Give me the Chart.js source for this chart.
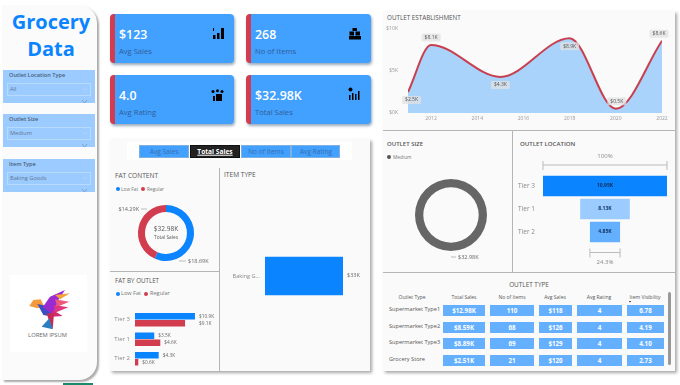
<!DOCTYPE html>
<html>
<head>
<meta charset="utf-8">
<script src="https://cdn.jsdelivr.net/npm/chart.js@4"></script>
<style>
html,body{margin:0;padding:0;background:#fff;overflow:hidden}
#page{position:relative;width:680px;height:385px;font-family:"Open Sans",sans-serif;overflow:hidden}
.box{position:absolute;box-sizing:border-box}
.panel{position:absolute;box-sizing:border-box;background:#fafafa;box-shadow:2px 2px 3px #a8a8a8}
.txt{position:absolute;white-space:nowrap;line-height:1}
canvas{position:absolute}
</style>
</head>
<body>
<div id="page"></div>
<script>
// ---- data
const kpiValues=['$123','268','4.0','$32.98K'];
const kpiNames=['Avg Sales','No of Items','Avg Rating','Total Sales'];
const slicerNames=['Outlet Location Type','Outlet Size','Item Type'];
const slicerValues=['All','Medium','Baking Goods'];
const tabNames=['Avg Sales','Total Sales','No of Items','Avg Rating'];

const fatNames=['Low Fat','Regular'];
const fatSales=[18.69,14.29];
const fatSalesLabels=['$18.69K','$14.29K'];

const itemNames=['Baking Goods'];
const itemSales=[33];

const tierNames=['Tier 3','Tier 1','Tier 2'];
const tierLowFat=[10.9,3.5,4.3];
const tierRegular=[9.1,4.6,0.6];

const estYears=[2011,2012,2015,2018,2020,2022];
const estSales=[2.5,8.1,4.3,8.9,0.5,8.6];
const estLabels=['$2.5K','$8.1K','$4.3K','$8.9K','$0.5K','$8.6K'];
const estTickYears=[2012,2014,2016,2018,2020,2022];

const sizeNames=['Medium'];
const sizeSales=[32.98];

const funnelNames=['Tier 3','Tier 1','Tier 2'];
const funnelPct=[100,40,24.3];
const funnelLabels=['10.95K','8.13K','4.85K'];

const tableHead=['Outlet Type','Total Sales','No of Items','Avg Sales','Avg Rating','Item Visibility'];
const tableTypes=['Supermarket Type1','Supermarket Type2','Supermarket Type3','Grocery Store'];
const tableTotal=['$12.98K','$8.59K','$8.89K','$2.51K'];
const tableItems=['110','68','69','21'];
const tableAvg=['$118','$126','$129','$120'];
const tableRating=['4','4','4','4'];
const tableVis=['6.78','4.19','4.10','2.73'];

const BLUE='#0a84ff',RED='#d13c4e',CARD='#42a0ff',LIGHT='#9ccbff';
const page=document.getElementById('page');
Chart.defaults.font.family='"Open Sans",sans-serif';
Chart.defaults.animation=false;
Chart.defaults.responsive=false;
Chart.defaults.plugins.legend.display=false;
Chart.defaults.plugins.tooltip.enabled=false;

function box(x,y,w,h,css,cls){
 const d=document.createElement('div');
 d.className=cls||'box';
 d.style.cssText=`left:${x}px;top:${y}px;width:${w}px;height:${h}px;`+(css||'');
 page.appendChild(d);
 return d;
}
function txt(x,y,s,size,color,css,center){
 const d=document.createElement('div');
 d.className='txt';
 d.textContent=s;
 d.style.cssText=`left:${x}px;top:${y}px;font-size:${size}px;color:${color};transform:translate(${center?'-50%':'0'},-50%);`+(css||'');
 page.appendChild(d);
 return d;
}
function svg(x,y,w,h,inner,vb){
 const d=document.createElement('div');
 d.style.cssText=`position:absolute;left:${x}px;top:${y}px;width:${w}px;height:${h}px`;
 d.innerHTML=`<svg width="${w}" height="${h}" viewBox="${vb||`0 0 ${w} ${h}`}" xmlns="http://www.w3.org/2000/svg">${inner}</svg>`;
 page.appendChild(d);
}
function canvas(x,y,w,h){
 const c=document.createElement('canvas');
 c.width=w;c.height=h;
 c.style.cssText=`left:${x}px;top:${y}px;width:${w}px;height:${h}px`;
 page.appendChild(c);
 return c;
}
function dot(x,y,color){box(x-2,y-2,4,4,`border-radius:50%;background:${color}`);}
function chartText(ctx,s,x,y,size,color,align,weight){
 ctx.save();
 ctx.font=`${weight||'normal'} ${size}px "Open Sans",sans-serif`;
 ctx.fillStyle=color;
 ctx.textAlign=align||'left';
 ctx.textBaseline='middle';
 ctx.fillText(s,x,y);
 ctx.restore();
}
function leader(ctx,x1,y1,x2,y2){
 ctx.save();
 ctx.strokeStyle='#bbb';
 ctx.lineWidth=1;
 ctx.beginPath();ctx.moveTo(x1,y1);ctx.lineTo(x2,y2);ctx.stroke();
 ctx.restore();
}
// fixed axis width / height, without the extra room chart.js keeps for half labels
function fitY(w){return s=>{s.width=w;s.paddingTop=0;s.paddingBottom=0;};}
function fitX(h){return s=>{s.height=h;s.paddingLeft=0;s.paddingRight=0;};}
const noGrid={display:false,drawTicks:false};

// ---- sidebar
box(2,5,95,375,'background:#fbfbfb;border-radius:0 18px 18px 0;box-shadow:2px 2px 2px #aaa','panel');
txt(51,22,'Grocery',20,BLUE,'font-weight:700',true);
txt(51,49,'Data',20,BLUE,'font-weight:700',true);
[70,114,159].forEach((y,i)=>{
 box(3,y,92,33,`background:${LIGHT}`);
 txt(9,y+6,slicerNames[i],5.6,'#4a5f78','font-weight:600');
 box(7,y+13,84,13,'border:1px solid #b8dafd');
 txt(10,y+19.5,slicerValues[i],5.7,'#5d7896');
 svg(81,y+17,7,5,'<path d="M1 1 L3.5 4 L6 1" fill="none" stroke="#7da3cb" stroke-width="1"/>');
 svg(82,y+4,6,4,'<path d="M1 1 L3 3 L5 1" fill="none" stroke="#b2d4f8" stroke-width="1"/>');
});
box(10,275,77,77,'background:#fff');
svg(0,200,110,185,`
 <polygon points="88,318 100,300 122,298 132,318 112,325" fill="#f59a3c"/>
 <polygon points="112,312 160,322 158,350 130,345" fill="#3b4fc0"/>
 <polygon points="128,322 150,290 195,270 175,300 160,345" fill="#9a2bd0"/>
 <polygon points="165,285 210,280 180,298" fill="#f5a13c"/>
 <polygon points="165,298 208,305 172,320" fill="#ec5a7c"/>
 <polygon points="162,315 205,322 165,338" fill="#e0357f"/>
 <polygon points="158,330 188,348 156,350" fill="#d62a70"/>
 <polygon points="140,340 162,340 158,388 150,372" fill="#c92a55"/>
 <polygon points="125,380 148,355 158,388" fill="#2a7fc0"/>
`,'0 0 330 555');
txt(47.5,336,'LOREM IPSUM',5.8,'#666','',true);
box(63,383,30,2,'background:#1b8a6b');

// ---- kpi cards
const kpiPos=[[110,14],[246,14],[110,75],[246,75]];
kpiPos.forEach((p,i)=>{
 box(p[0],p[1],i%2?125:124,49,`background:${CARD};border-left:5px solid ${RED};border-radius:4px;box-shadow:1px 2px 3px #9ab`);
 txt(p[0]+9,p[1]+20.5,kpiValues[i],12.4,'#fff','font-weight:600');
 txt(p[0]+9,p[1]+37.5,kpiNames[i],7.6,'#2f5f96');
});
svg(212,23,13,13,'<rect x="1" y="1" width="1" height="3"/><rect x="1" y="8" width="2.5" height="4"/><rect x="5" y="6" width="2.5" height="6"/><rect x="9" y="1" width="3" height="11"/>');
svg(348,23,14,13,'<rect x="1" y="9" width="12" height="3.5"/><rect x="1.5" y="4.5" width="4.5" height="4"/><rect x="7.5" y="4.5" width="4.5" height="4"/><rect x="4.5" y="1" width="4.5" height="3"/>');
svg(211,85,13,13,'<circle cx="2" cy="2.5" r="1.5"/><circle cx="6.5" cy="1.7" r="1.5"/><circle cx="11" cy="2.5" r="1.5"/><rect x="2" y="7" width="2" height="5"/><rect x="5" y="5" width="6" height="7"/>');
svg(348,84,13,14,'<circle cx="2.5" cy="2.5" r="2"/><rect x="1" y="8" width="1.5" height="5"/><rect x="4" y="6" width="1.5" height="7"/><rect x="7" y="7" width="1.5" height="6"/><rect x="10" y="4" width="1.5" height="9"/>');

// ---- centre panel
box(110,139,260,232,'','panel');
box(127,142,225,18,'background:#fff');
[139,190,241,291].forEach((x,i)=>{
 const on=i==1;
 box(x,145,x==291?49:50,13,`background:${on?'#222':CARD};border:1px solid ${on?'#111':'#7fb0e0'}`);
 txt(x+25,151.5,tabNames[i],6.6,on?'#fff':'#3a6ea8',on?'font-weight:700;text-decoration:underline':'',true);
});
box(219,168,1,203,'background:#b5b5b5');
box(110,271,109,1,'background:#b5b5b5');
txt(115,176,'FAT CONTENT',6.6,'#555');
txt(224,175,'ITEM TYPE',6.6,'#555');
txt(115,281,'FAT BY OUTLET',6.2,'#555');
dot(118,188.5,BLUE);txt(121,188.5,fatNames[0],4.8,'#777');
dot(143,188.5,RED);txt(147,188.5,fatNames[1],4.8,'#777');
dot(118,294,BLUE);txt(121,294,fatNames[0],5.6,'#777');
dot(146,294,RED);txt(150,294,fatNames[1],5.6,'#777');

// fat content donut
new Chart(canvas(112,197,108,72),{
 type:'doughnut',
 data:{labels:fatNames,datasets:[{data:fatSales,backgroundColor:[BLUE,RED],borderWidth:0}]},
 options:{cutout:'75%',layout:{padding:{top:8,bottom:8}}},
 plugins:[{id:'fatLabels',afterDraw(c){
  const a=c.getDatasetMeta(0).data[0],ctx=c.ctx;
  chartText(ctx,'$32.98K',a.x,a.y-4,6.5,'#555','center');
  chartText(ctx,'Total Sales',a.x,a.y+5,4.8,'#555','center');
  chartText(ctx,fatSalesLabels[1],a.x-27,a.y-23.5,5.5,'#666','right');
  leader(ctx,a.x-25,a.y-24,a.x-19,a.y-24);
  chartText(ctx,fatSalesLabels[0],a.x+22,a.y+28,5.5,'#666','left');
  leader(ctx,a.x+13,a.y+28,a.x+20,a.y+28);
 }}]
});

// item type bar
new Chart(canvas(220,190,148,172),{
 type:'bar',
 data:{labels:itemNames,datasets:[{data:itemSales,backgroundColor:BLUE,barThickness:38}]},
 options:{indexAxis:'y',layout:{padding:{right:25}},
  scales:{
   x:{display:false,min:0,max:33},
   y:{grid:noGrid,border:{display:false},afterFit:fitY(45),
      ticks:{font:{size:5.6},color:'#888',padding:5,callback(){return itemNames[0].slice(0,6)+' G...';}}}
  }},
 plugins:[{id:'itemLabel',afterDraw(c){
  const b=c.getDatasetMeta(0).data[0];
  chartText(c.ctx,'$'+itemSales[0]+'K',b.x+4,b.y-1,5.5,'#666');
 }}]
});

// fat by outlet bars
new Chart(canvas(111,310,108,60),{
 type:'bar',
 data:{labels:tierNames,datasets:[
  {data:tierLowFat,backgroundColor:BLUE,categoryPercentage:.72,barPercentage:.92},
  {data:tierRegular,backgroundColor:RED,categoryPercentage:.72,barPercentage:.92}
 ]},
 options:{indexAxis:'y',layout:{padding:{right:7,bottom:1.5}},
  scales:{
   x:{display:false,min:0,max:14},
   y:{grid:noGrid,border:{display:false},afterFit:fitY(24),
      ticks:{font:{size:6},color:'#888',padding:5}}
  }},
 plugins:[{id:'fatBarLabels',afterDraw(c){
  c.data.datasets.forEach((ds,k)=>{
   c.getDatasetMeta(k).data.forEach((b,i)=>{
    // the $9.1K label sits further out in the original
    const gap=(k==1&&i==0)?14:4;
    chartText(c.ctx,'$'+ds.data[i].toFixed(1)+'K',b.x+gap,b.y,4.8,'#666');
   });
  });
 }}]
});

// ---- right panel
box(383,11,292,360,'','panel');
box(383,130,292,1,'background:#b5b5b5');
box(383,272,292,1,'background:#b5b5b5');
box(512,131,1,141,'background:#b5b5b5');
txt(387,18,'OUTLET ESTABLISHMENT',6.3,'#555');
txt(387,144,'OUTLET SIZE',6,'#555','font-weight:600');
txt(520,144,'OUTLET LOCATION',6.1,'#555','font-weight:600');
dot(389,157,'#555');txt(393,157,sizeNames[0],4.8,'#777');

// establishment area
new Chart(canvas(383,24,292,105),{
 type:'line',
 data:{datasets:[{
  data:estYears.map((y,i)=>({x:y,y:estSales[i]})),
  borderColor:'#c8404f',borderWidth:2,backgroundColor:'#a9d3fb',fill:'origin',
  pointRadius:0,cubicInterpolationMode:'monotone'
 }]},
 options:{layout:{padding:{top:5,right:13}},
  scales:{
   x:{type:'linear',min:2011,max:2022,grid:noGrid,border:{display:false},
      afterBuildTicks(s){s.ticks=estTickYears.map(v=>({value:v}));},
      afterFit:fitX(16),
      ticks:{font:{size:5},color:'#999',maxRotation:0,padding:3,callback(v){return String(v);}}},
   y:{min:0,max:10,grid:noGrid,border:{display:false},afterFit:fitY(25),
      ticks:{stepSize:5,font:{size:5},color:'#999',padding:10,callback(v){return '$'+v+'K';}}}
  }},
 plugins:[{id:'estLabels',afterDraw(c){
  const ctx=c.ctx,pts=c.getDatasetMeta(0).data;
  const off=[[3.5,8],[0,-7.5],[0,8],[0,8],[1,-7.5],[-3,-7]];
  pts.forEach((p,i)=>{
   const x=p.x+off[i][0],y=p.y+off[i][1];
   ctx.save();
   ctx.font='5px "Open Sans",sans-serif';
   const w=ctx.measureText(estLabels[i]).width+6;
   ctx.fillStyle='rgba(225,225,225,.75)';
   ctx.beginPath();ctx.roundRect(x-w/2,y-4,w,8,1.5);ctx.fill();
   ctx.restore();
   chartText(ctx,estLabels[i],x,y,5,'#555','center');
  });
 }}]
});

// outlet size donut
new Chart(canvas(389,165,124,100),{
 type:'doughnut',
 data:{labels:sizeNames,datasets:[{data:sizeSales,backgroundColor:['#666'],borderWidth:0}]},
 options:{cutout:'77%',layout:{padding:{top:14,bottom:14}}},
 plugins:[{id:'sizeLabel',afterDraw(c){
  const a=c.getDatasetMeta(0).data[0];
  leader(c.ctx,a.x,a.y+42,a.x+5,a.y+42);
  chartText(c.ctx,'$'+sizeSales[0]+'K',a.x+7,a.y+42,5.5,'#666');
 }}]
});

// outlet location funnel
new Chart(canvas(514,150,161,120),{
 type:'bar',
 data:{labels:funnelNames,datasets:[{
  data:funnelPct.map(p=>[50-p/2,50+p/2]),
  backgroundColor:[BLUE,LIGHT,'#64b0ff'],categoryPercentage:1,barPercentage:.89
 }]},
 options:{indexAxis:'y',layout:{padding:{top:24.5,right:8,bottom:26.5}},
  scales:{
   x:{display:false,min:0,max:100},
   y:{grid:noGrid,border:{display:false},afterFit:fitY(29),
      ticks:{font:{size:6.5},color:'#888',padding:8}}
  }},
 plugins:[{id:'funnelLabels',afterDraw(c){
  const ctx=c.ctx,x=c.scales.x;
  c.getDatasetMeta(0).data.forEach((b,i)=>{
   chartText(ctx,funnelLabels[i],x.getPixelForValue(50),b.y,5,'#12305a','center','bold');
  });
  const last=funnelPct[funnelPct.length-1];
  const bracket=(lo,hi,y)=>{
   const a=x.getPixelForValue(lo),b=x.getPixelForValue(hi);
   leader(ctx,a,y,b,y);leader(ctx,a,y-4,a,y+5);leader(ctx,b,y-4,b,y+5);
  };
  bracket(0,100,15);
  chartText(ctx,funnelPct[0]+'%',x.getPixelForValue(50),6.5,6,'#888','center');
  bracket(50-last/2,50+last/2,102.5);
  chartText(ctx,last+'%',x.getPixelForValue(50),112.5,6,'#888','center');
 }}]
});

// outlet type table
txt(529,285,'OUTLET TYPE',6.4,'#555','',true);
const colX=[443,490,539,577,627],colW=[42,44,33,45,37];
const colVals=[tableTotal,tableItems,tableAvg,tableRating,tableVis];
const headX=[412,464,512,555,599,645];
tableHead.forEach((h,i)=>txt(headX[i],297,h,5,'#555','',true));
box(628.5,300.5,3,2,'background:#222;clip-path:polygon(0 0,100% 0,50% 100%)');
const rowY=[305,322,338,355];
rowY.forEach((y,r)=>{
 txt(389,y+5,tableTypes[r],5.6,'#555');
 colVals.forEach((vals,k)=>{
  box(colX[k],y,colW[k],11,'background:#64b0ff');
  txt(colX[k]+colW[k]/2,y+5.7,vals[r],6.2,'#fff','font-weight:700',true);
 });
});
box(668,292,3,73,'background:#999;border-radius:2px');
</script>
</body>
</html>
